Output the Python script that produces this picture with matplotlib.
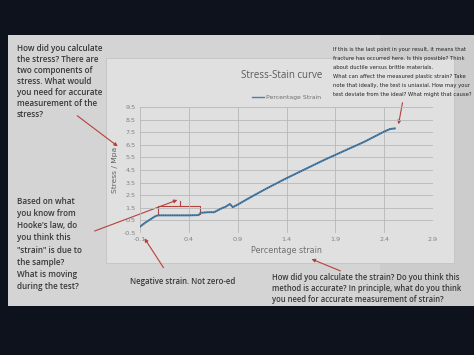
import numpy as np
import matplotlib
matplotlib.use('Agg')
from matplotlib import pyplot as plt
from matplotlib.patches import Rectangle

# values
strain = [-0.1, -0.05, 0.0, 0.05, 0.08, 0.2, 0.3, 0.4, 0.5, 0.52, 0.6, 0.66,
          0.72, 0.78, 0.82, 0.85, 0.9, 1.0, 1.2, 1.4, 1.6, 1.8, 2.0, 2.2,
          2.4, 2.46, 2.51]
stress = [0.0, 0.3, 0.55, 0.8, 0.9, 0.9, 0.9, 0.9, 0.92, 1.1, 1.15, 1.15,
          1.4, 1.6, 1.8, 1.55, 1.75, 2.2, 3.05, 3.85, 4.6, 5.35, 6.05, 6.75,
          7.55, 7.75, 7.8]
xticks = [-0.1, 0.4, 0.9, 1.4, 1.9, 2.4, 2.9]
yticks = [-0.5, 0.5, 1.5, 2.5, 3.5, 4.5, 5.5, 6.5, 7.5, 8.5, 9.5]

W, H = 474, 355
fig = plt.figure(figsize=(W / 100, H / 100), dpi=100)
fig.patch.set_facecolor('#0e121c')

# overlay in pixel coordinates for page, notes and arrows
bg = fig.add_axes([0, 0, 1, 1])
bg.set_xlim(0, W)
bg.set_ylim(H, 0)
bg.axis('off')
bg.add_patch(Rectangle((8, 35), W - 8, 271, facecolor='#d4d4d4', edgecolor='none'))
bg.add_patch(Rectangle((380, 35), W - 380, 271, facecolor='#c8c8c8', edgecolor='none', alpha=0.6))
bg.add_patch(Rectangle((106, 58), 348, 205, facecolor='#e0e0e0', edgecolor='#c4c4c4', lw=0.6))

txt = '#383838'
bg.text(17, 44, "How did you calculate\nthe stress? There are\ntwo components of\nstress. What would\nyou need for accurate\nmeasurement of the\nstress?",
        fontsize=5.9, color=txt, va='top', linespacing=1.28, fontfamily='Open Sans',
        fontweight='semibold')
bg.text(17, 197, "Based on what\nyou know from\nHooke's law, do\nyou think this\n\"strain\" is due to\nthe sample?\nWhat is moving\nduring the test?",
        fontsize=5.9, color=txt, va='top', linespacing=1.45, fontfamily='Open Sans',
        fontweight='semibold')
bg.text(130, 282, "Negative strain. Not zero-ed", fontsize=5.6, color=txt, va='center',
        fontfamily='Open Sans', fontweight='semibold')
bg.text(272, 273, "How did you calculate the strain? Do you think this\nmethod is accurate? In principle, what do you think\nyou need for accurate measurement of strain?",
        fontsize=5.5, color=txt, va='top', linespacing=1.32, fontfamily='Open Sans',
        fontweight='semibold')
bg.text(333, 47, "If this is the last point in your result, it means that\nfracture has occurred here. Is this possible? Think\nabout ductile versus brittle materials.\nWhat can affect the measured plastic strain? Take\nnote that ideally, the test is uniaxial. How may your\ntest deviate from the ideal? What might that cause?",
        fontsize=3.75, color='#222222', va='top', linespacing=1.98)

bg.text(282, 76, "Stress-Stain curve", fontsize=7.0, color='#5a5a5a', ha='center', va='center',
        fontfamily='Open Sans')
bg.plot([252, 264], [97, 97], color='#4f7fa6', lw=1)
bg.text(266, 97, "Percentage Strain", fontsize=4.4, color='#707070', va='center')

red = '#b5413c'
arrows = [((75, 114), (120, 148)),
          ((92, 232), (180, 199)),
          ((165, 270), (143, 236)),
          ((343, 272), (309, 258)),
          ((403, 100), (398, 127))]
for (x0, y0), (x1, y1) in arrows:
    bg.annotate('', xy=(x1, y1), xytext=(x0, y0),
                arrowprops=dict(arrowstyle='-|>', color=red, lw=0.8, mutation_scale=5))
# bracket over the flat part
bg.plot([158, 158, 200, 200], [214, 206, 206, 214], color=red, lw=0.8)
bg.plot([180, 180], [206, 201], color=red, lw=0.8)

# chart
ax = fig.add_axes([140 / W, (H - 233) / H, (433 - 140) / W, (233 - 107) / H])
ax.set_facecolor('none')
ax.plot(strain, stress, color='#4f7fa6', lw=1.4, zorder=3)
ax.plot(strain, stress, color='#2f5f86', lw=1.0, ls=(0, (0.6, 1.0)), zorder=4)
ax.set_xlim(-0.1, 2.9)
ax.set_ylim(-0.5, 9.5)
ax.set_xticks(xticks)
ax.set_yticks(yticks)
ax.set_xticklabels([str(t) for t in xticks])
ax.set_yticklabels([str(t) for t in yticks])
ax.grid(True, color='#b8b8b8', lw=0.6)
ax.tick_params(length=0, labelsize=4.6, labelcolor='#808080', pad=3)
for s in ax.spines.values():
    s.set_visible(False)
ax.set_xlabel('Percentage strain', fontsize=5.8, color='#707070', labelpad=3)
ax.set_ylabel('Stress / Mpa', fontsize=5.4, color='#606060', labelpad=4)

fig.savefig('out.png', dpi=100, facecolor=fig.get_facecolor())
